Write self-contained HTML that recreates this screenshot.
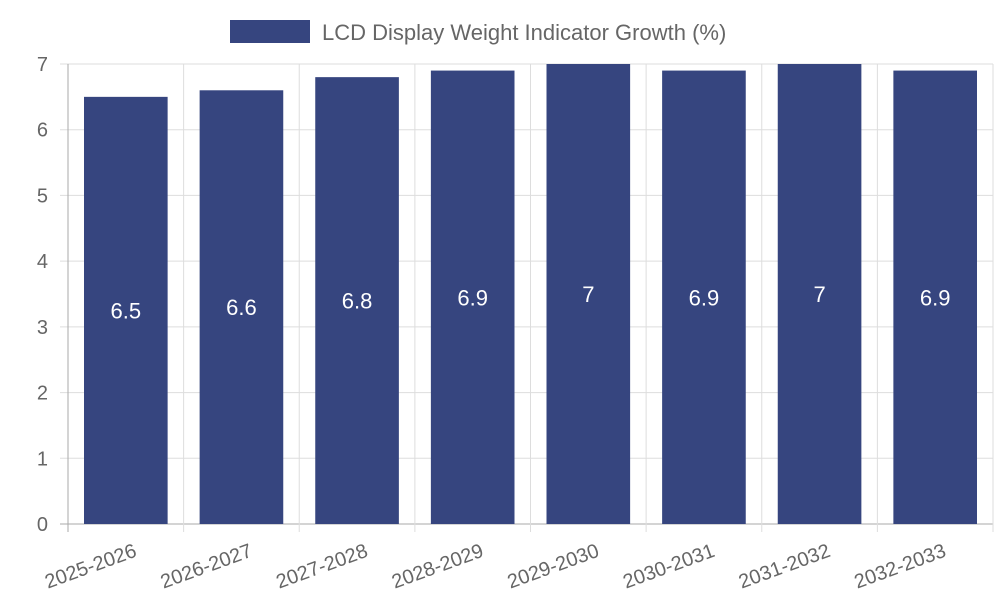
<!DOCTYPE html>
<html><head><meta charset="utf-8"><style>
body{margin:0;background:#fff;font-family:"Liberation Sans",sans-serif}
</style></head><body>
<svg id="c" width="1000" height="600" xmlns="http://www.w3.org/2000/svg"></svg>
<script>
const categories=["2025-2026","2026-2027","2027-2028","2028-2029","2029-2030","2030-2031","2031-2032","2032-2033"];
const values=[6.5,6.6,6.8,6.9,7,6.9,7,6.9];
const yTicks=[0,1,2,3,4,5,6,7];
const seriesName="LCD Display Weight Indicator Growth (%)";
const svg=document.getElementById('c');const NS="http://www.w3.org/2000/svg";
const L=68,R=993,T=64,B=524,yMax=7;
const band=(R-L)/categories.length;
const x=i=>L+i*band, y=v=>B-(v/yMax)*(B-T);
function mk(t,a,p){const e=document.createElementNS(NS,t);for(const k in a)e.setAttribute(k,a[k]);(p||svg).appendChild(e);return e;}
// legend
const lg=mk('g',{});


mk('rect',{x:230,y:20,width:80,height:23,fill:'#36457f'},lg);
const lt=mk('text',{x:322,y:40,'font-size':22,fill:'#666'},lg);lt.textContent=seriesName;
// grid
yTicks.forEach(t=>{const l=mk('line',{x1:L-8,x2:R,y1:y(t),y2:y(t),stroke:t===0?'#aaa':'#ddd','stroke-width':1});

const tx=mk('text',{x:L-20,y:y(t)+7,'font-size':20,fill:'#666','text-anchor':'end'});tx.textContent=t;
});
for(let i=0;i<=categories.length;i++){const l=mk('line',{x1:x(i),x2:x(i),y1:T,y2:B+8,stroke:i===0?'#aaa':'#ddd','stroke-width':1});
}
// bars
categories.forEach((c,i)=>{const bx=x(i)+16,bw=band-32;
const r=mk('rect',{x:bx,y:y(values[i]),width:bw,height:B-y(values[i]),fill:'#36457f'});

const v=mk('text',{x:bx+bw/2,y:(y(values[i])+B)/2+8,'font-size':22,fill:'#fff','text-anchor':'middle'});v.textContent=values[i];

const cx=x(i)+band/2+12;
const tl=mk('text',{x:cx,y:B+32,'font-size':20,fill:'#666','text-anchor':'end',transform:`rotate(-20 ${cx} ${B+32})`});tl.textContent=c;
});
</script>
</body></html>
